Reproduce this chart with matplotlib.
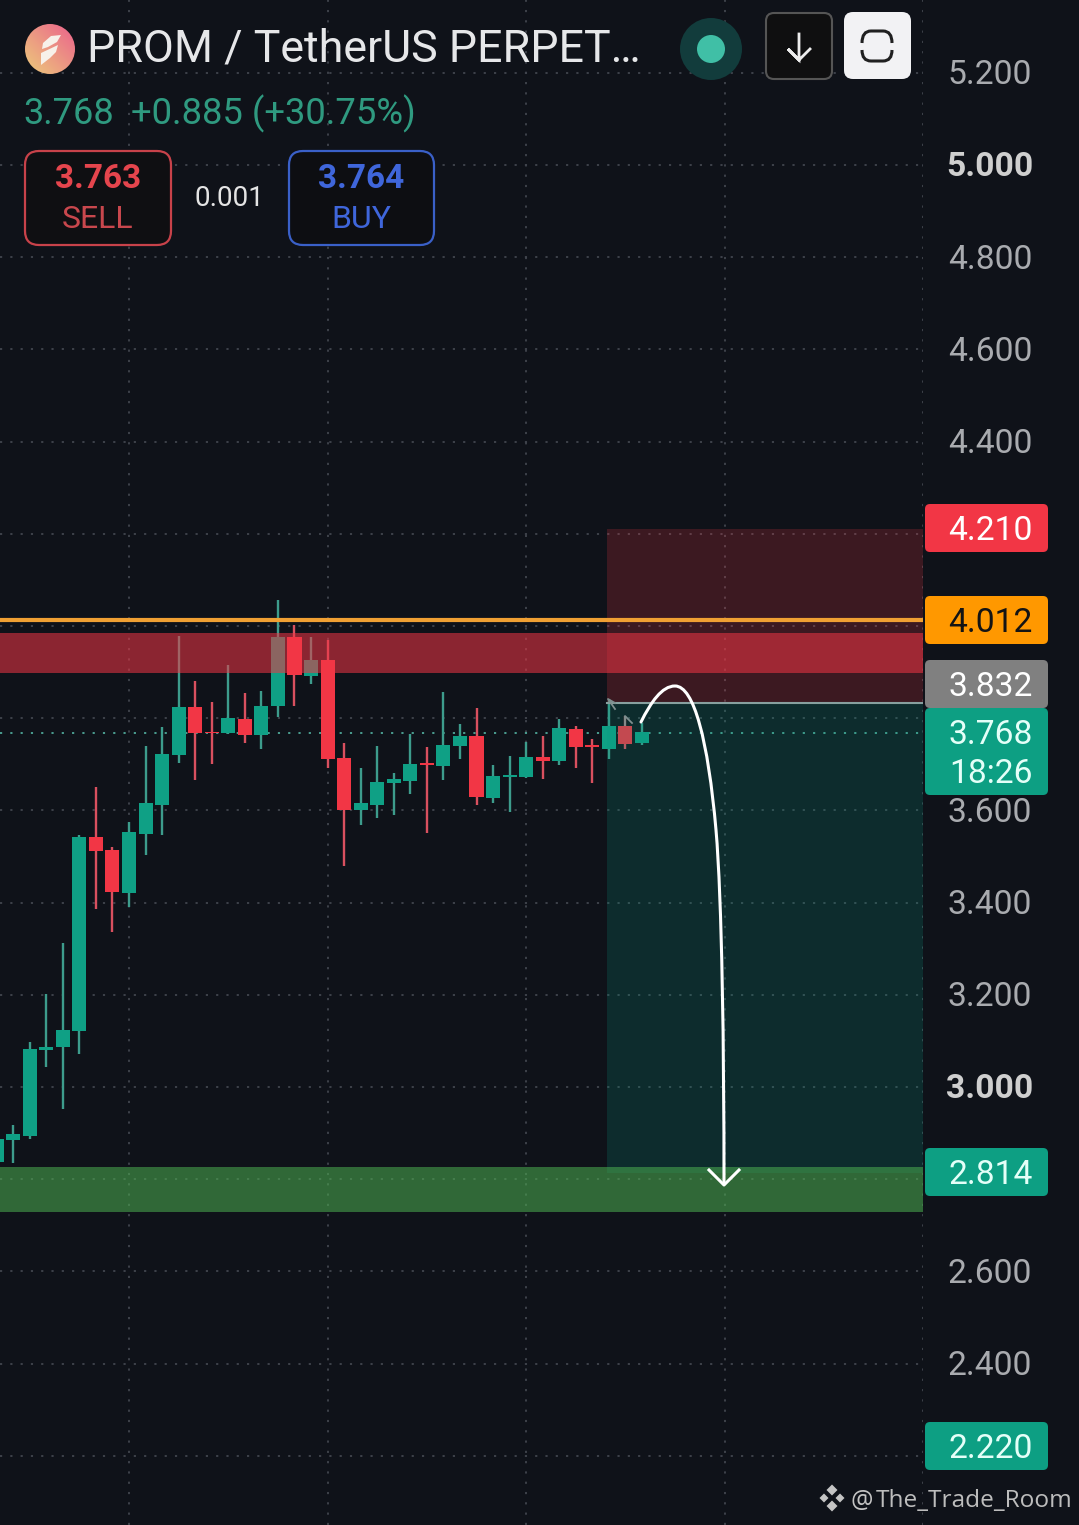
import numpy as np
import matplotlib
matplotlib.use('Agg')
import matplotlib.pyplot as plt
from matplotlib.patches import Circle, FancyBboxPatch, PathPatch, Polygon
from matplotlib.path import Path

plt.rcParams['font.family'] = ['Roboto', 'DejaVu Sans']

# candles, left to right
open_ = [2.837, 2.885, 2.894, 3.080, 3.087, 3.121, 3.542, 3.514, 3.421, 3.549, 3.612, 3.720, 3.824, 3.770,
         3.768, 3.798, 3.764, 3.826, 3.976, 3.892, 3.926, 3.714, 3.601, 3.612, 3.659, 3.664, 3.703, 3.696,
         3.740, 3.761, 3.627, 3.672, 3.672, 3.716, 3.707, 3.777, 3.742, 3.733, 3.783, 3.746]
high = [2.907, 2.918, 3.098, 3.202, 3.312, 3.547, 3.651, 3.521, 3.575, 3.740, 3.781, 3.978, 3.881, 3.835,
        3.915, 3.855, 3.859, 4.056, 4.002, 3.976, 3.970, 3.746, 3.692, 3.740, 3.681, 3.766, 3.738, 3.857,
        3.787, 3.822, 3.698, 3.718, 3.748, 3.761, 3.798, 3.783, 3.755, 3.842, 3.805, 3.790]
low = [2.831, 2.835, 2.887, 3.043, 2.952, 3.072, 3.386, 3.336, 3.390, 3.503, 3.547, 3.703, 3.666, 3.701,
       3.766, 3.746, 3.733, 3.803, 3.826, 3.874, 3.692, 3.479, 3.568, 3.584, 3.590, 3.636, 3.551, 3.666,
       3.711, 3.612, 3.616, 3.597, 3.670, 3.668, 3.698, 3.692, 3.659, 3.711, 3.733, 3.742]
close = [2.887, 2.898, 3.082, 3.087, 3.124, 3.542, 3.512, 3.423, 3.553, 3.616, 3.722, 3.824, 3.768, 3.767,
         3.800, 3.764, 3.826, 3.976, 3.894, 3.926, 3.711, 3.601, 3.616, 3.662, 3.668, 3.701, 3.698, 3.742,
         3.761, 3.629, 3.675, 3.677, 3.716, 3.707, 3.779, 3.738, 3.738, 3.783, 3.744, 3.770]

price_ticks = [2.2, 2.4, 2.6, 2.8, 3.0, 3.2, 3.4, 3.6, 3.8, 4.0, 4.2, 4.4, 4.6, 4.8, 5.0, 5.2]
tick_labels = ['2.400', '2.600', '3.000', '3.200', '3.400', '3.600', '4.400', '4.600', '4.800', '5.000', '5.200']
bold_labels = ['3.000', '5.000']
time_grid = [8, 20, 32, 44, 56]

resistance = (3.898, 3.985)
support = (2.729, 2.826)
level_line = 4.012
stop = 4.210
entry = 3.832
target = 2.814
last_price = 3.768
box_start = 36.88

BG = '#0f1219'
GREEN = '#0fa085'
RED = '#f23645'
GREEN_WICK = '#3d9c8c'
RED_WICK = '#d9505f'

W, H = 1079, 1525
fig = plt.figure(figsize=(W / 100, H / 100), dpi=100, facecolor=BG)

# price chart, scale: 461 px per 1.0 of price
ax = fig.add_axes([0, 0, 923 / W, 1])
ax.set_facecolor(BG)
ax.set_xlim(0.205, 55.98)
ax.set_ylim((2470 - 1525) / 461, 2470 / 461)
ax.axis('off')


def py(price):
    return 2470 - price * 461


for p in price_ticks:
    ax.axhline(p, color='#41454e', lw=1.3, ls=(0, (1.2, 4.5)), zorder=1)
for t in time_grid:
    ax.axvline(t, color='#41454e', lw=1.3, ls=(0, (1.2, 4.5)), zorder=1)
ax.axhline(last_price, color='#4fa899', lw=1.3, ls=(0, (1.2, 4.5)), zorder=1)

xs = np.arange(len(open_))
o = np.array(open_)
c = np.array(close)
up = c >= o
ax.vlines(xs, low, high, colors=[GREEN_WICK if u else RED_WICK for u in up], lw=1.7, zorder=2)
ax.bar(xs, np.abs(c - o), bottom=np.minimum(o, c), width=0.85, color=[GREEN if u else RED for u in up], zorder=3)

# short position tool
ax.axhspan(entry, stop, xmin=(box_start - 0.205) / 55.775, xmax=1, color=RED, alpha=0.2, lw=0, zorder=4)
ax.axhspan(target, entry, xmin=(box_start - 0.205) / 55.775, xmax=1, color='#089981', alpha=0.2, lw=0, zorder=4)
ax.plot([box_start, 55.98], [entry, entry], color='#87a09f', lw=1.5, zorder=5)

# zones
ax.axhspan(*resistance, color=RED, alpha=0.55, lw=0, zorder=6)
ax.axhspan(*support, color='#4caf50', alpha=0.55, lw=0, zorder=6)
ax.axhline(level_line, color='#f0a033', lw=3, zorder=7)

# everything else in pixel coordinates
ui = fig.add_axes([0, 0, 1, 1], zorder=5)
ui.patch.set_alpha(0)
ui.set_xlim(0, W)
ui.set_ylim(H, 0)
ui.axis('off')


def rbox(x0, y0, x1, y1, face, edge='none', r=6, lw=0, z=3):
    ui.add_patch(FancyBboxPatch((x0 + r, y0 + r), x1 - x0 - 2 * r, y1 - y0 - 2 * r,
                                boxstyle='round,pad=%d,rounding_size=%d' % (r, r),
                                fc=face, ec=edge, lw=lw, zorder=z))


# price axis
for lab in tick_labels:
    bold = lab in bold_labels
    ui.text(990, py(float(lab)) + 2.5, lab, color='#cfcfcf' if bold else '#a9abaf', fontsize=24.2,
            ha='center', va='center', fontweight='bold' if bold else 'normal')

# price tags
for price, lab, col, tcol, y0, y1 in [(stop, '4.210', RED, 'white', 504, 552),
                                      (level_line, '4.012', '#ff9800', '#141414', 596, 644),
                                      (entry, '3.832', '#808080', 'white', 660, 708),
                                      (target, '2.814', '#0d9f83', '#e4fff8', 1148, 1196),
                                      (2.220, '2.220', '#0d9f83', '#e4fff8', 1422, 1470)]:
    rbox(925, y0, 1048, y1, col, r=5)
    ui.text(990.5, (y0 + y1) / 2 + 2.5, lab, color=tcol, fontsize=24.2, ha='center', va='center', zorder=4)
rbox(925, 708, 1048, 795, '#0d9f83', r=5)
ui.text(990.5, 735, '3.768', color='#e4fff8', fontsize=24.2, ha='center', va='center', zorder=4)
ui.text(990.5, 774, '18:26', color='#e4fff8', fontsize=24.2, ha='center', va='center', zorder=4)

# header
grad = np.linspace(0, 1, 60)
gx, gy = np.meshgrid(grad, grad)
mix = np.clip((gx + (1 - gy)) / 2, 0, 1)[..., None]
img = (1 - mix) * np.array([0.93, 0.80, 0.48]) + mix * np.array([0.92, 0.38, 0.55])
im = ui.imshow(img, extent=(25, 75, 74, 24), aspect='auto', zorder=3)
im.set_clip_path(Circle((50, 49), 25, transform=ui.transData))
ui.set_xlim(0, W)
ui.set_ylim(H, 0)
ui.add_patch(Polygon([[43, 43], [51, 36], [61, 35], [57, 42], [48, 47], [42, 49]], fc='#f7f1ea', ec='none', zorder=4))
ui.add_patch(Polygon([[41, 53], [58, 45], [56, 52], [50, 58], [41, 65]], fc='#f7f1ea', ec='none', zorder=4))

ui.text(87, 49, 'PROM / TetherUS PERPET…', color='#e6e7e9', fontsize=32.2, ha='left', va='center')
ui.text(23, 114, '3.768', color='#2f9a80', fontsize=26, ha='left', va='center')
ui.text(131, 114, '+0.885 (+30.75%)', color='#2f9a80', fontsize=26.2, ha='left', va='center')

rbox(25, 151, 171, 245, '#0f0f12', '#c8424a', r=14, lw=1.6)
ui.text(98, 179, '3.763', color='#e5454d', fontsize=24, fontweight='bold', ha='center', va='center', zorder=4)
ui.text(98, 219, 'SELL', color='#c8474d', fontsize=23, ha='center', va='center', zorder=4)
ui.text(229, 199, '0.001', color='#e4e4e4', fontsize=20, ha='center', va='center')
rbox(289, 151, 434, 245, '#0d0e12', '#3a60c8', r=14, lw=1.6)
ui.text(361, 179, '3.764', color='#3f66db', fontsize=24, fontweight='bold', ha='center', va='center', zorder=4)
ui.text(361, 219, 'BUY', color='#3f66db', fontsize=23, ha='center', va='center', zorder=4)

ui.add_patch(Circle((711, 49), 31, fc='#123c3c', ec='none', zorder=3))
ui.add_patch(Circle((711, 49), 14, fc='#40bfa6', ec='none', zorder=4))

rbox(766, 13, 832, 79, '#0f0f10', '#555555', r=8, lw=1.5)
ui.plot([799, 799, 788, 799, 810], [34, 60, 49, 60, 49], color='#ececec', lw=2, zorder=4, solid_joinstyle='miter')
rbox(844, 12, 911, 79, '#f2f2f4', r=9)
ui.add_patch(PathPatch(Path([(862, 43), (862, 31), (871, 31), (883, 31), (892, 31), (892, 43)],
                            [Path.MOVETO, Path.CURVE3, Path.CURVE3, Path.LINETO, Path.CURVE3, Path.CURVE3]),
                       fc='none', ec='#202020', lw=2.2, zorder=4))
ui.add_patch(PathPatch(Path([(862, 50), (862, 61), (871, 61), (883, 61), (892, 61), (892, 50)],
                            [Path.MOVETO, Path.CURVE3, Path.CURVE3, Path.LINETO, Path.CURVE3, Path.CURVE3]),
                       fc='none', ec='#202020', lw=2.2, zorder=4))

# small grey arrows of the tool
ui.plot([615, 608, 615], [703, 699, 709], color='#7f8f8f', lw=1.3, zorder=3)
ui.plot([625, 625, 632], [725, 716, 723], color='#7f8f8f', lw=1.3, zorder=3)

# hand drawn arrow
ui.add_patch(PathPatch(Path([(641, 722), (651, 702), (662, 686), (675, 686),
                             (694, 686), (708, 740), (716, 830),
                             (722, 900), (724, 1050), (724, 1184)],
                            [Path.MOVETO] + [Path.CURVE4] * 9),
                       fc='none', ec='white', lw=2.2, capstyle='round', zorder=6))
ui.plot([709, 724, 739], [1170, 1185, 1170], color='white', lw=2.2, zorder=6)

# watermark
for dx, dy in [(0, -8), (-8, 0), (8, 0), (0, 8)]:
    s = 4.5 if dy == 0 else 5.5
    ui.add_patch(Polygon([[832 + dx * 1.0, 1498 + dy - s], [832 + dx + s, 1498 + dy],
                          [832 + dx, 1498 + dy + s], [832 + dx - s, 1498 + dy]],
                         fc='#c4c4c4', ec='none', zorder=3))
ui.text(851, 1501, '@', color='#c4c4c4', fontsize=18, family='Open Sans', ha='left', va='center')
ui.text(876, 1501, 'The_Trade_Room', color='#bdbdbd', fontsize=17.6, family='Open Sans', ha='left', va='center')

fig.savefig('out.png', dpi=100, facecolor=BG)
